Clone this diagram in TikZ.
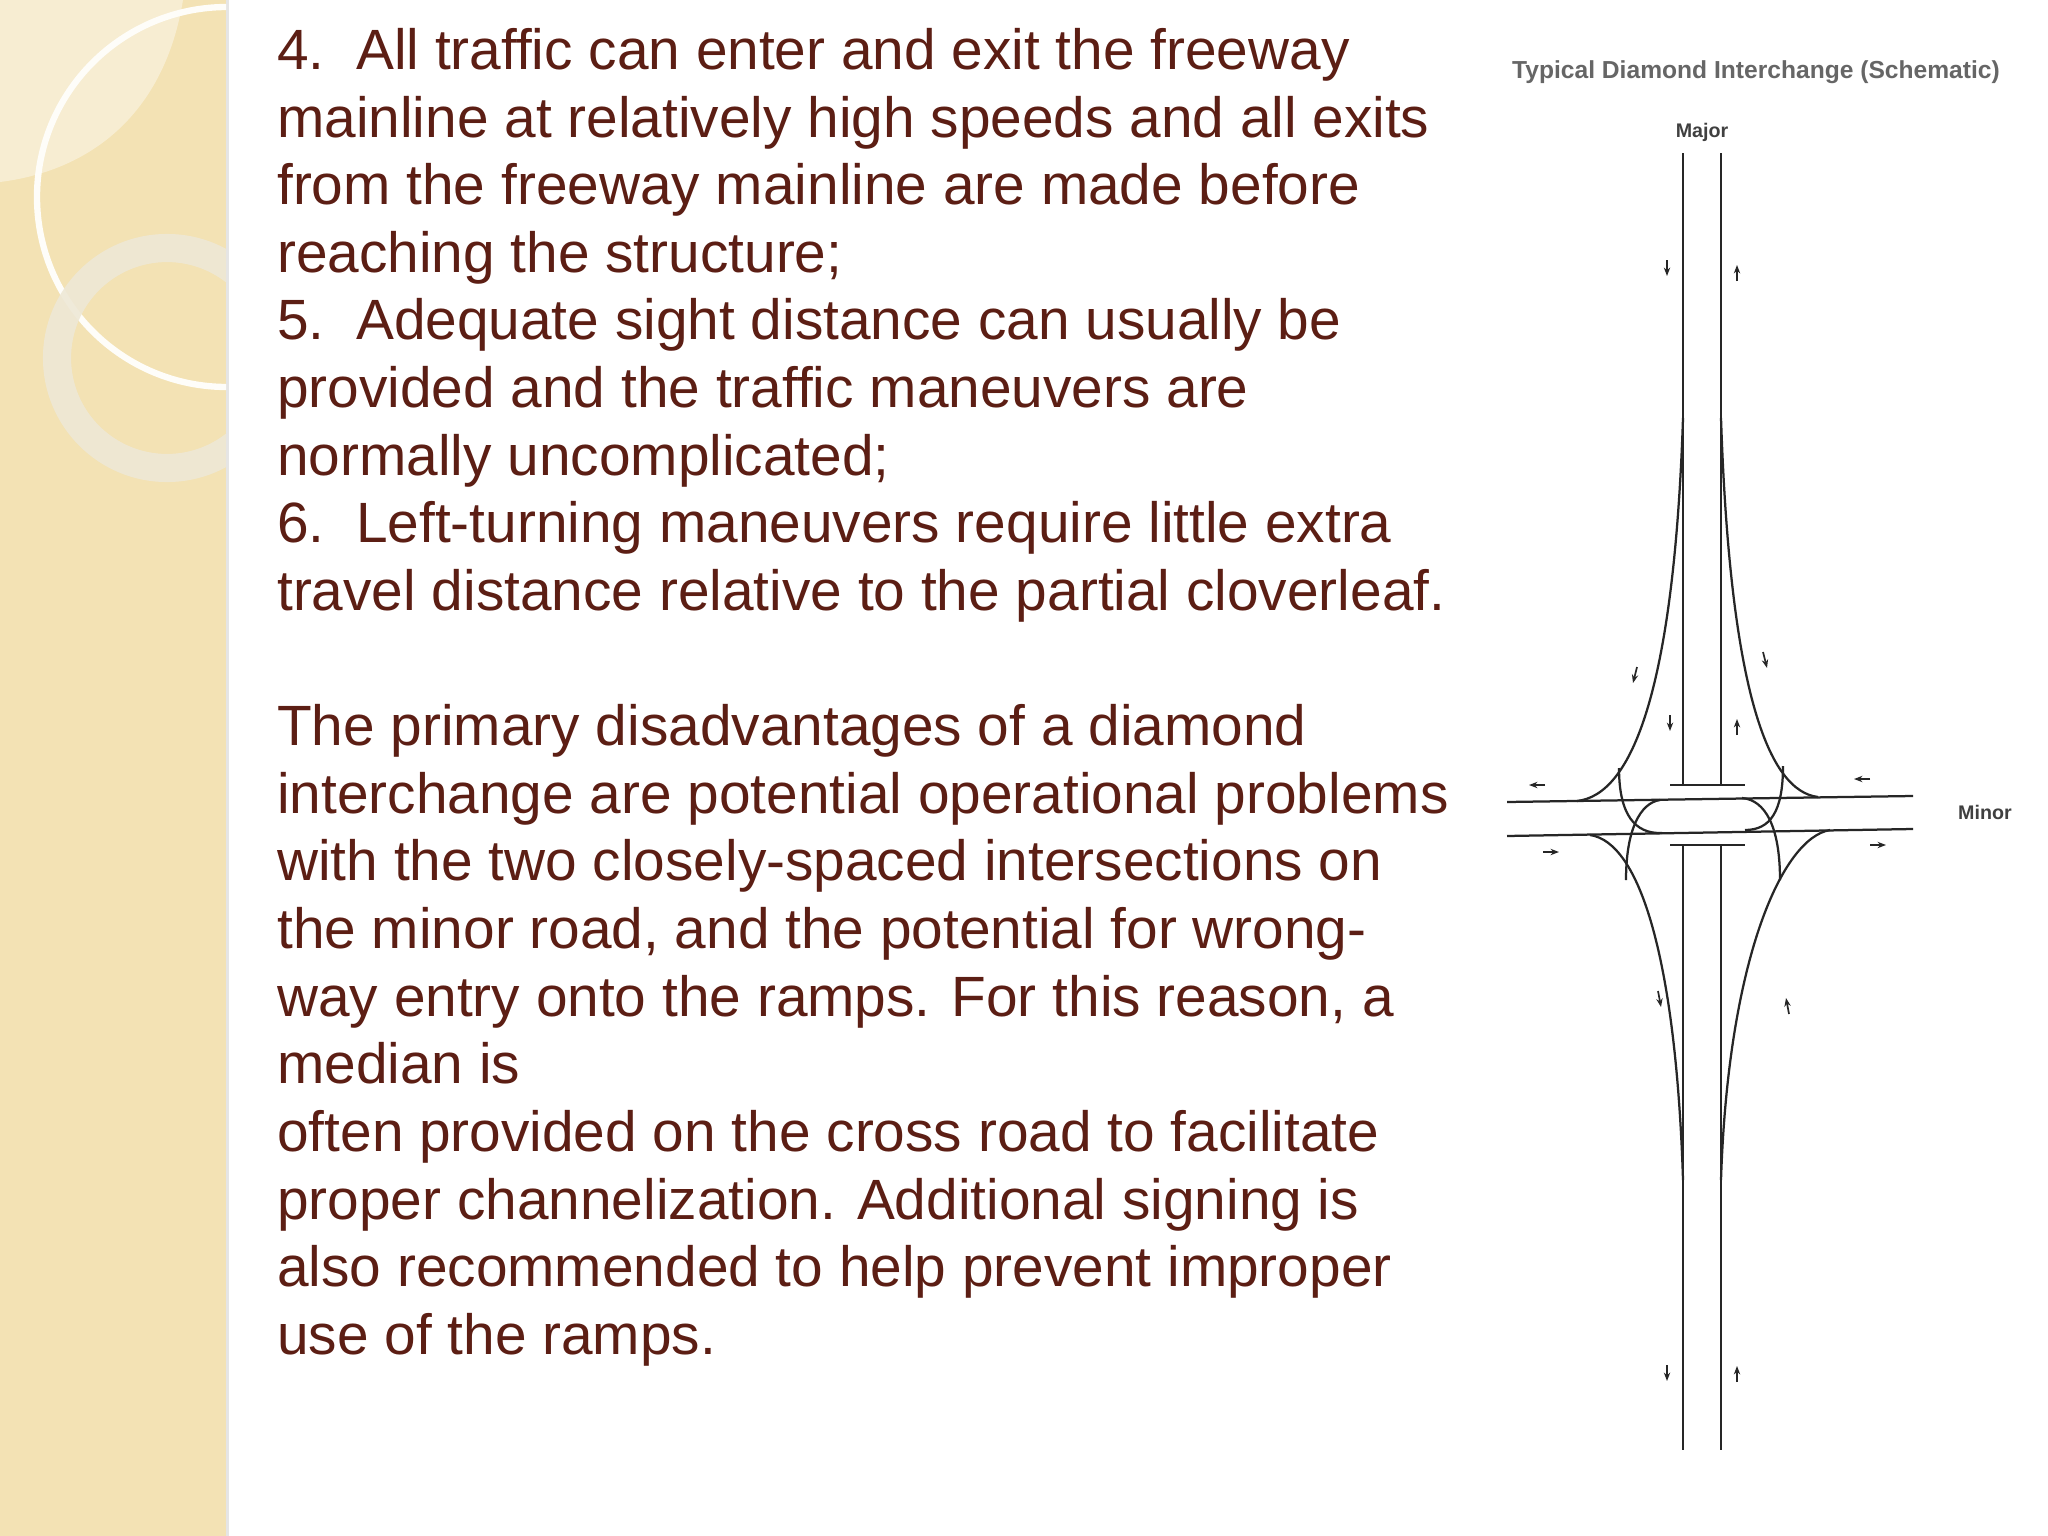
\documentclass[tikz,border=0pt]{standalone}
\usepackage{fontspec}
\setmainfont{Liberation Sans}
\usetikzlibrary{arrows.meta}
\definecolor{txt}{RGB}{92,30,20}
\definecolor{strip}{RGB}{243,226,180}
\definecolor{ringc}{RGB}{238,232,214}
\begin{document}
\begin{tikzpicture}[x=0.25mm,y=-0.25mm,
  road/.style={line width=1.6pt,black!85},
  arr/.style={line width=1.2pt,black!85,-{Stealth[length=6pt,width=4.5pt]}}]
\useasboundingbox (0,0) rectangle (2048,1536);
\fill[white] (0,0) rectangle (2048,1536);
% left decorative strip
\fill[strip] (0,0) rectangle (226,1536);
\fill[black!10] (226,0) rectangle (229,1536);
\begin{scope}
\clip (0,0) rectangle (226,1536);
\fill[white,opacity=0.4] (0,0) -- (183,0) .. controls (165,110) and (95,170) .. (0,182) -- cycle;
\draw[line width=4.5pt,white!92!strip] (227,197) circle (190);
\draw[line width=20pt,ringc,opacity=0.9] (167,358) circle (110);
\end{scope}
% text
\node[anchor=north west,align=left,text=txt,font=\fontsize{40.4}{48.1}\selectfont,inner sep=0] (body) at (277,28) {4.\ \ All traffic can enter and exit the freeway\\
mainline at relatively high speeds and all exits\\
from the freeway mainline are made before\\
reaching the structure;\\
5.\ \ Adequate sight distance can usually be\\
provided and the traffic maneuvers are\\
normally uncomplicated;\\
6.\ \ Left-turning maneuvers require little extra\\
travel distance relative to the partial cloverleaf.\\
\mbox{}\\
The primary disadvantages of a diamond\\
interchange are potential operational problems\\
with the two closely-spaced intersections on\\
the minor road, and the potential for wrong-\\
way entry onto the ramps. For this reason, a\\
median is\\
often provided on the cross road to facilitate\\
proper channelization. Additional signing is\\
also recommended to help prevent improper\\
use of the ramps.};
% diagram labels
\node[text=black!60,font=\fontsize{17.5}{19}\selectfont\bfseries] (title) at (1756,72) {Typical Diamond Interchange (Schematic)};
\node[text=black!75,font=\fontsize{14}{16}\selectfont\bfseries] (major) at (1702,132) {Major};
\node[text=black!75,font=\fontsize{14}{16}\selectfont\bfseries] (minor) at (1985,812) {Minor};
% coordinates
\coordinate (ML1) at (1683,153); \coordinate (ML2) at (1683,785);
\coordinate (MR1) at (1721,153); \coordinate (MR2) at (1721,785);
\coordinate (ML3) at (1683,845); \coordinate (ML4) at (1683,1450);
\coordinate (MR3) at (1721,845); \coordinate (MR4) at (1721,1450);
\coordinate (B1a) at (1670,785); \coordinate (B1b) at (1745,785);
\coordinate (B2a) at (1670,845); \coordinate (B2b) at (1745,845);
\coordinate (NU1) at (1507,802); \coordinate (NU2) at (1913,796);
\coordinate (NL1) at (1507,836); \coordinate (NL2) at (1913,829);
% major road
\draw[road] (ML1) -- (ML2); \draw[road] (MR1) -- (MR2);
\draw[road] (ML3) -- (ML4); \draw[road] (MR3) -- (MR4);
\draw[road] (B1a) -- (B1b); \draw[road] (B2a) -- (B2b);
% minor road
\draw[road] (NU1) -- (NU2); \draw[road] (NL1) -- (NL2);
% ramps
\coordinate (UL0) at (1577,801); \coordinate (UL1) at (1683,418);
\coordinate (UR0) at (1818,797); \coordinate (UR1) at (1721,418);
\coordinate (LL0) at (1590,835); \coordinate (LL1) at (1683,1180);
\coordinate (LR0) at (1830,830); \coordinate (LR1) at (1721,1180);
\draw[road] (UL0) .. controls (1632,795) and (1674,690) .. (UL1);
\draw[road] (UR0) .. controls (1768,791) and (1730,690) .. (UR1);
\draw[road] (LL0) .. controls (1640,842) and (1676,960) .. (LL1);
\draw[road] (LR0) .. controls (1782,838) and (1728,960) .. (LR1);
% left-turn loops
\draw[road] (1619,768) .. controls (1619,815) and (1635,834) .. (1662,833);
\draw[road] (1626,880) .. controls (1626,830) and (1640,803) .. (1660,800);
\draw[road] (1783,766) .. controls (1783,812) and (1770,830) .. (1745,830);
\draw[road] (1780,880) .. controls (1780,826) and (1765,800) .. (1742,798);
% arrows
\draw[arr] (1667,260) -- (1667,276);
\draw[arr] (1737,281) -- (1737,265);
\draw[arr] (1670,715) -- (1670,731);
\draw[arr] (1737,735) -- (1737,719);
\draw[arr] (1637,667) -- (1633,683);
\draw[arr] (1763,652) -- (1767,668);
\draw[arr] (1545,785) -- (1529,785);
\draw[arr] (1870,779) -- (1854,779);
\draw[arr] (1543,852) -- (1559,852);
\draw[arr] (1870,845) -- (1886,845);
\draw[arr] (1658,991) -- (1661,1007);
\draw[arr] (1789,1014) -- (1786,998);
\draw[arr] (1667,1365) -- (1667,1381);
\draw[arr] (1737,1382) -- (1737,1366);
\end{tikzpicture}
\end{document}
